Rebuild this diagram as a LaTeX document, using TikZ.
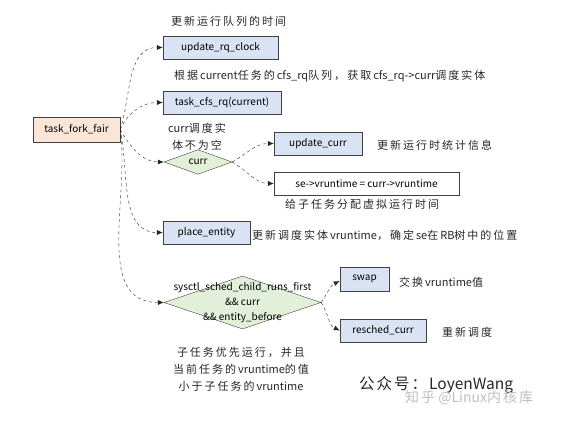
\documentclass[tikz,border=0pt]{standalone}
\usepackage{fontspec}
\setmainfont{Noto Sans CJK SC}
\usetikzlibrary{arrows.meta,positioning,shapes.geometric}
\definecolor{funcfill}{HTML}{DAE3F3}
\definecolor{rootfill}{HTML}{FBE5D6}
\definecolor{condfill}{HTML}{E2F0D9}
\definecolor{edgegray}{HTML}{404040}
% wider advance after each Chinese character
\newXeTeXintercharclass\hanclass
\def\markhan#1{\ifx\relax#1\else\XeTeXcharclass`#1=\hanclass\relax\expandafter\markhan\fi}
\markhan 更新运行队列的时间根据任务获取调度实体，不为空统计信息给子分配虚拟确定在树中位置交换值重优先并且当前小于公众号：知乎内核库\relax
\XeTeXinterchartoks\hanclass 0 = {\hskip 2pt\relax}
\XeTeXinterchartoks\hanclass\hanclass = {\hskip 2pt\relax}
\tikzset{
    func/.style = {
        draw = edgegray,
        fill = funcfill,
        minimum height = 23pt,
        inner sep = 0pt,
        font = \fontsize{10}{12}\selectfont,
        },
    root/.style = {
        func,
        fill = rootfill,
        minimum height = 25pt,
        },
    plain box/.style = {
        func,
        fill = white,
        },
    cond/.style = {
        draw = edgegray,
        fill = condfill,
        diamond,
        inner sep = 0pt,
        font = \fontsize{10}{12}\selectfont,
        },
    note/.style = {
        font = \fontsize{11}{17}\selectfont,
        text = black!85,
        inner sep = 0pt,
        },
    link/.style = {
        draw = black!85,
        dashed,
        -{Latex[length=6pt,width=5pt]},
        },
}

\begin{document}
\XeTeXinterchartokenstate=1
\begin{tikzpicture}[x=1pt,y=-1pt]
            \useasboundingbox (0,0) rectangle (566,422);

            % function boxes
            \node[root, minimum width=87pt] (fork) at (76.5,129.5) {task\_fork\_fair};
            \node[func, minimum width=115pt] (rqclock) at (220.5,47.5) {update\_rq\_clock};
            \node[func, minimum width=118pt] (cfsrq) at (222,102.5) {task\_cfs\_rq(current)};
            \node[cond, minimum width=68pt, minimum height=24pt] (curr) at (198,162) {curr};
            \node[func, minimum width=88pt] (updcurr) at (318,143.5) {update\_curr};
            \node[plain box, minimum width=185pt] (vrt) at (366.5,183.5) {se->vruntime = curr->vruntime};
            \node[func, minimum width=87pt] (place) at (206.5,232.5) {place\_entity};
            \node[cond, minimum width=157pt, minimum height=53pt] (check) at (242.5,302.5) {};
            \node[align=center, font=\fontsize{10}{15}\selectfont] at (check) {sysctl\_sched\_child\_runs\_first\\\&\& curr\\\&\& entity\_before};
            \node[func, minimum width=49pt, minimum height=24pt] (swap) at (364.5,279) {swap};
            \node[func, minimum width=86pt] (resched) at (383,330.5) {resched\_curr};

            % notes
            \node[note, anchor=west] (n1) at (171,21) {更新运行队列的时间};
            \node[note, anchor=west] (n2) at (174,76) {根据current任务的cfs\_rq队列，获取cfs\_rq->curr调度实体};
            \node[note, align=center] (n3) at (197,136.5) {curr调度实\\体不为空};
            \node[note, anchor=west] (n4) at (377,145) {更新运行时统计信息};
            \node[note, anchor=west] (n5) at (285,204) {给子任务分配虚拟运行时间};
            \node[note, anchor=west] (n6) at (252,235) {更新调度实体vruntime，确定se在RB树中的位置};
            \node[note, anchor=west] (n7) at (399,282) {交换vruntime值};
            \node[note, anchor=west] (n8) at (442,332) {重新调度};
            \node[note, align=center] (n9) at (241,369.5) {子任务优先运行，并且\\当前任务的vruntime的值\\小于子任务的vruntime};
            \node[note, anchor=west, font=\fontsize{15.5}{18}\selectfont] (brand) at (359,385) {公众号：LoyenWang};
            \node[note, anchor=west, text=black!25, font=\fontsize{14}{18}\selectfont] (mark) at (405,398) {知乎 @Linux内核库};

            % calls
            \path (fork.east) edge[link, out=72, in=180] (rqclock.west);
            \path (fork.east) edge[link, out=65, in=180] (cfsrq.west);
            \path (fork.east) edge[link, out=-60, in=180] (curr.west);
            \path (fork.east) edge[link, out=-78, in=180] (place.west);
            \path (fork.east) edge[link, out=-82, in=180] (check.west);
            \path (curr.east) edge[link, out=30, in=180] (updcurr.west);
            \path (curr.east) edge[link, out=-30, in=180] (vrt.west);
            \path (check.east) edge[link, out=55, in=205] ([yshift=-2pt]swap.west);
            \path (check.east) edge[link, out=-55, in=155] (resched.west);
        \end{tikzpicture}
\end{document}
